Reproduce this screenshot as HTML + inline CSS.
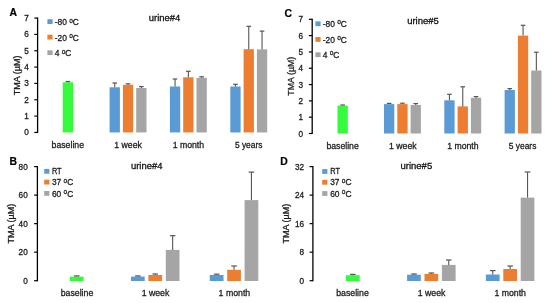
<!DOCTYPE html>
<html><head><meta charset="utf-8"><title>TMA stability in urine</title>
<style>
html,body{margin:0;padding:0;background:#fff;}
svg{display:block;font-family:"Liberation Sans", sans-serif;}
</style></head>
<body>
<svg width="550" height="303" viewBox="0 0 550 303">
<rect x="0" y="0" width="550" height="303" fill="#ffffff"/>
<rect x="62.70" y="82.30" width="10.30" height="50.15" fill="#36FA3C"/>
<line x1="67.85" y1="81.50" x2="67.85" y2="82.30" stroke="#555555" stroke-width="1.1"/>
<line x1="65.55" y1="81.50" x2="70.15" y2="81.50" stroke="#555555" stroke-width="1.2"/>
<rect x="109.60" y="87.30" width="10.30" height="45.15" fill="#5B9BD5"/>
<line x1="114.75" y1="83.00" x2="114.75" y2="87.30" stroke="#555555" stroke-width="1.1"/>
<line x1="112.45" y1="83.00" x2="117.05" y2="83.00" stroke="#555555" stroke-width="1.2"/>
<rect x="122.90" y="84.80" width="10.30" height="47.65" fill="#ED7D31"/>
<line x1="128.05" y1="83.80" x2="128.05" y2="84.80" stroke="#555555" stroke-width="1.1"/>
<line x1="125.75" y1="83.80" x2="130.35" y2="83.80" stroke="#555555" stroke-width="1.2"/>
<rect x="136.20" y="88.00" width="10.30" height="44.45" fill="#A5A5A5"/>
<line x1="141.35" y1="86.60" x2="141.35" y2="88.00" stroke="#555555" stroke-width="1.1"/>
<line x1="139.05" y1="86.60" x2="143.65" y2="86.60" stroke="#555555" stroke-width="1.2"/>
<rect x="169.90" y="86.50" width="10.30" height="45.95" fill="#5B9BD5"/>
<line x1="175.05" y1="79.00" x2="175.05" y2="86.50" stroke="#555555" stroke-width="1.1"/>
<line x1="172.75" y1="79.00" x2="177.35" y2="79.00" stroke="#555555" stroke-width="1.2"/>
<rect x="183.20" y="77.30" width="10.30" height="55.15" fill="#ED7D31"/>
<line x1="188.35" y1="71.30" x2="188.35" y2="77.30" stroke="#555555" stroke-width="1.1"/>
<line x1="186.05" y1="71.30" x2="190.65" y2="71.30" stroke="#555555" stroke-width="1.2"/>
<rect x="196.50" y="77.80" width="10.30" height="54.65" fill="#A5A5A5"/>
<line x1="201.65" y1="76.80" x2="201.65" y2="77.80" stroke="#555555" stroke-width="1.1"/>
<line x1="199.35" y1="76.80" x2="203.95" y2="76.80" stroke="#555555" stroke-width="1.2"/>
<rect x="230.30" y="86.50" width="10.30" height="45.95" fill="#5B9BD5"/>
<line x1="235.45" y1="84.30" x2="235.45" y2="86.50" stroke="#555555" stroke-width="1.1"/>
<line x1="233.15" y1="84.30" x2="237.75" y2="84.30" stroke="#555555" stroke-width="1.2"/>
<rect x="243.60" y="49.20" width="10.30" height="83.25" fill="#ED7D31"/>
<line x1="248.75" y1="26.30" x2="248.75" y2="49.20" stroke="#555555" stroke-width="1.1"/>
<line x1="246.45" y1="26.30" x2="251.05" y2="26.30" stroke="#555555" stroke-width="1.2"/>
<rect x="256.90" y="49.40" width="10.30" height="83.05" fill="#A5A5A5"/>
<line x1="262.05" y1="31.10" x2="262.05" y2="49.40" stroke="#555555" stroke-width="1.1"/>
<line x1="259.75" y1="31.10" x2="264.35" y2="31.10" stroke="#555555" stroke-width="1.2"/>
<line x1="37.60" y1="17.47" x2="37.60" y2="133.05" stroke="#000" stroke-width="1.3"/>
<line x1="34.30" y1="132.45" x2="37.60" y2="132.45" stroke="#000" stroke-width="1.2"/>
<text x="28.70" y="135.45" font-size="8.2" text-anchor="end" font-weight="normal" fill="#1a1a1a" stroke="#1a1a1a" stroke-width="0.28">0</text>
<line x1="34.30" y1="116.11" x2="37.60" y2="116.11" stroke="#000" stroke-width="1.2"/>
<text x="28.70" y="119.11" font-size="8.2" text-anchor="end" font-weight="normal" fill="#1a1a1a" stroke="#1a1a1a" stroke-width="0.28">1</text>
<line x1="34.30" y1="99.77" x2="37.60" y2="99.77" stroke="#000" stroke-width="1.2"/>
<text x="28.70" y="102.77" font-size="8.2" text-anchor="end" font-weight="normal" fill="#1a1a1a" stroke="#1a1a1a" stroke-width="0.28">2</text>
<line x1="34.30" y1="83.43" x2="37.60" y2="83.43" stroke="#000" stroke-width="1.2"/>
<text x="28.70" y="86.43" font-size="8.2" text-anchor="end" font-weight="normal" fill="#1a1a1a" stroke="#1a1a1a" stroke-width="0.28">3</text>
<line x1="34.30" y1="67.09" x2="37.60" y2="67.09" stroke="#000" stroke-width="1.2"/>
<text x="28.70" y="70.09" font-size="8.2" text-anchor="end" font-weight="normal" fill="#1a1a1a" stroke="#1a1a1a" stroke-width="0.28">4</text>
<line x1="34.30" y1="50.75" x2="37.60" y2="50.75" stroke="#000" stroke-width="1.2"/>
<text x="28.70" y="53.75" font-size="8.2" text-anchor="end" font-weight="normal" fill="#1a1a1a" stroke="#1a1a1a" stroke-width="0.28">5</text>
<line x1="34.30" y1="34.41" x2="37.60" y2="34.41" stroke="#000" stroke-width="1.2"/>
<text x="28.70" y="37.41" font-size="8.2" text-anchor="end" font-weight="normal" fill="#1a1a1a" stroke="#1a1a1a" stroke-width="0.28">6</text>
<line x1="34.30" y1="18.07" x2="37.60" y2="18.07" stroke="#000" stroke-width="1.2"/>
<text x="28.70" y="21.07" font-size="8.2" text-anchor="end" font-weight="normal" fill="#1a1a1a" stroke="#1a1a1a" stroke-width="0.28">7</text>
<text x="9.60" y="16.30" font-size="10.4" text-anchor="start" font-weight="bold" fill="#000" stroke="#000" stroke-width="0.2">A</text>
<text x="148.80" y="21.20" font-size="8.8" text-anchor="start" font-weight="normal" fill="#111" stroke="#111" stroke-width="0.28" textLength="31.4" lengthAdjust="spacingAndGlyphs">urine#4</text>
<text transform="translate(20.40,75.40) rotate(-90)" font-size="8.6" text-anchor="middle" fill="#1a1a1a" stroke="#1a1a1a" stroke-width="0.28" textLength="39.6" lengthAdjust="spacingAndGlyphs">TMA (µM)</text>
<rect x="47.40" y="19.20" width="5.20" height="4.80" fill="#5B9BD5"/>
<text x="54.70" y="25.30" font-size="8.4" text-anchor="start" font-weight="normal" fill="#1a1a1a" stroke="#1a1a1a" stroke-width="0.28">-80 <tspan font-size="6.6" dy="-2.7">o</tspan><tspan dy="2.7">C</tspan></text>
<rect x="47.40" y="34.70" width="5.20" height="4.80" fill="#ED7D31"/>
<text x="54.70" y="40.80" font-size="8.4" text-anchor="start" font-weight="normal" fill="#1a1a1a" stroke="#1a1a1a" stroke-width="0.28">-20 <tspan font-size="6.6" dy="-2.7">o</tspan><tspan dy="2.7">C</tspan></text>
<rect x="47.40" y="50.30" width="5.20" height="4.80" fill="#A5A5A5"/>
<text x="54.70" y="56.40" font-size="8.4" text-anchor="start" font-weight="normal" fill="#1a1a1a" stroke="#1a1a1a" stroke-width="0.28">4 <tspan font-size="6.6" dy="-2.7">o</tspan><tspan dy="2.7">C</tspan></text>
<text x="67.80" y="147.90" font-size="8.7" text-anchor="middle" font-weight="normal" fill="#1a1a1a" stroke="#1a1a1a" stroke-width="0.28">baseline</text>
<text x="128.10" y="147.90" font-size="8.7" text-anchor="middle" font-weight="normal" fill="#1a1a1a" stroke="#1a1a1a" stroke-width="0.28">1 week</text>
<text x="188.40" y="147.90" font-size="8.7" text-anchor="middle" font-weight="normal" fill="#1a1a1a" stroke="#1a1a1a" stroke-width="0.28">1 month</text>
<text x="248.70" y="147.90" font-size="8.7" text-anchor="middle" font-weight="normal" fill="#1a1a1a" stroke="#1a1a1a" stroke-width="0.28" textLength="27.5" lengthAdjust="spacingAndGlyphs">5 years</text>
<rect x="337.50" y="105.60" width="10.30" height="27.90" fill="#36FA3C"/>
<line x1="342.65" y1="105.00" x2="342.65" y2="105.60" stroke="#555555" stroke-width="1.1"/>
<line x1="340.35" y1="105.00" x2="344.95" y2="105.00" stroke="#555555" stroke-width="1.2"/>
<rect x="384.00" y="104.10" width="10.30" height="29.40" fill="#5B9BD5"/>
<line x1="389.15" y1="103.40" x2="389.15" y2="104.10" stroke="#555555" stroke-width="1.1"/>
<line x1="386.85" y1="103.40" x2="391.45" y2="103.40" stroke="#555555" stroke-width="1.2"/>
<rect x="397.30" y="104.10" width="10.30" height="29.40" fill="#ED7D31"/>
<line x1="402.45" y1="103.20" x2="402.45" y2="104.10" stroke="#555555" stroke-width="1.1"/>
<line x1="400.15" y1="103.20" x2="404.75" y2="103.20" stroke="#555555" stroke-width="1.2"/>
<rect x="410.60" y="105.00" width="10.30" height="28.50" fill="#A5A5A5"/>
<line x1="415.75" y1="103.60" x2="415.75" y2="105.00" stroke="#555555" stroke-width="1.1"/>
<line x1="413.45" y1="103.60" x2="418.05" y2="103.60" stroke="#555555" stroke-width="1.2"/>
<rect x="444.30" y="100.30" width="10.30" height="33.20" fill="#5B9BD5"/>
<line x1="449.45" y1="94.30" x2="449.45" y2="100.30" stroke="#555555" stroke-width="1.1"/>
<line x1="447.15" y1="94.30" x2="451.75" y2="94.30" stroke="#555555" stroke-width="1.2"/>
<rect x="457.60" y="106.40" width="10.30" height="27.10" fill="#ED7D31"/>
<line x1="462.75" y1="86.80" x2="462.75" y2="106.40" stroke="#555555" stroke-width="1.1"/>
<line x1="460.45" y1="86.80" x2="465.05" y2="86.80" stroke="#555555" stroke-width="1.2"/>
<rect x="470.90" y="97.80" width="10.30" height="35.70" fill="#A5A5A5"/>
<line x1="476.05" y1="96.60" x2="476.05" y2="97.80" stroke="#555555" stroke-width="1.1"/>
<line x1="473.75" y1="96.60" x2="478.35" y2="96.60" stroke="#555555" stroke-width="1.2"/>
<rect x="504.60" y="90.00" width="10.30" height="43.50" fill="#5B9BD5"/>
<line x1="509.75" y1="88.60" x2="509.75" y2="90.00" stroke="#555555" stroke-width="1.1"/>
<line x1="507.45" y1="88.60" x2="512.05" y2="88.60" stroke="#555555" stroke-width="1.2"/>
<rect x="517.90" y="35.60" width="10.30" height="97.90" fill="#ED7D31"/>
<line x1="523.05" y1="25.30" x2="523.05" y2="35.60" stroke="#555555" stroke-width="1.1"/>
<line x1="520.75" y1="25.30" x2="525.35" y2="25.30" stroke="#555555" stroke-width="1.2"/>
<rect x="531.20" y="70.50" width="10.30" height="63.00" fill="#A5A5A5"/>
<line x1="536.35" y1="52.20" x2="536.35" y2="70.50" stroke="#555555" stroke-width="1.1"/>
<line x1="534.05" y1="52.20" x2="538.65" y2="52.20" stroke="#555555" stroke-width="1.2"/>
<line x1="312.20" y1="18.70" x2="312.20" y2="134.10" stroke="#000" stroke-width="1.3"/>
<line x1="308.90" y1="133.50" x2="312.20" y2="133.50" stroke="#000" stroke-width="1.2"/>
<text x="303.10" y="136.50" font-size="8.2" text-anchor="end" font-weight="normal" fill="#1a1a1a" stroke="#1a1a1a" stroke-width="0.28">0</text>
<line x1="308.90" y1="117.19" x2="312.20" y2="117.19" stroke="#000" stroke-width="1.2"/>
<text x="303.10" y="120.19" font-size="8.2" text-anchor="end" font-weight="normal" fill="#1a1a1a" stroke="#1a1a1a" stroke-width="0.28">1</text>
<line x1="308.90" y1="100.87" x2="312.20" y2="100.87" stroke="#000" stroke-width="1.2"/>
<text x="303.10" y="103.87" font-size="8.2" text-anchor="end" font-weight="normal" fill="#1a1a1a" stroke="#1a1a1a" stroke-width="0.28">2</text>
<line x1="308.90" y1="84.56" x2="312.20" y2="84.56" stroke="#000" stroke-width="1.2"/>
<text x="303.10" y="87.56" font-size="8.2" text-anchor="end" font-weight="normal" fill="#1a1a1a" stroke="#1a1a1a" stroke-width="0.28">3</text>
<line x1="308.90" y1="68.24" x2="312.20" y2="68.24" stroke="#000" stroke-width="1.2"/>
<text x="303.10" y="71.24" font-size="8.2" text-anchor="end" font-weight="normal" fill="#1a1a1a" stroke="#1a1a1a" stroke-width="0.28">4</text>
<line x1="308.90" y1="51.93" x2="312.20" y2="51.93" stroke="#000" stroke-width="1.2"/>
<text x="303.10" y="54.93" font-size="8.2" text-anchor="end" font-weight="normal" fill="#1a1a1a" stroke="#1a1a1a" stroke-width="0.28">5</text>
<line x1="308.90" y1="35.61" x2="312.20" y2="35.61" stroke="#000" stroke-width="1.2"/>
<text x="303.10" y="38.61" font-size="8.2" text-anchor="end" font-weight="normal" fill="#1a1a1a" stroke="#1a1a1a" stroke-width="0.28">6</text>
<line x1="308.90" y1="19.30" x2="312.20" y2="19.30" stroke="#000" stroke-width="1.2"/>
<text x="303.10" y="22.30" font-size="8.2" text-anchor="end" font-weight="normal" fill="#1a1a1a" stroke="#1a1a1a" stroke-width="0.28">7</text>
<text x="284.50" y="17.30" font-size="10.4" text-anchor="start" font-weight="bold" fill="#000" stroke="#000" stroke-width="0.2">C</text>
<text x="407.20" y="24.00" font-size="8.8" text-anchor="start" font-weight="normal" fill="#111" stroke="#111" stroke-width="0.28" textLength="31.6" lengthAdjust="spacingAndGlyphs">urine#5</text>
<text transform="translate(294.20,76.20) rotate(-90)" font-size="8.6" text-anchor="middle" fill="#1a1a1a" stroke="#1a1a1a" stroke-width="0.28" textLength="38.9" lengthAdjust="spacingAndGlyphs">TMA (µM)</text>
<rect x="315.40" y="21.40" width="5.20" height="4.80" fill="#5B9BD5"/>
<text x="322.70" y="27.00" font-size="8.4" text-anchor="start" font-weight="normal" fill="#1a1a1a" stroke="#1a1a1a" stroke-width="0.28">-80 <tspan font-size="6.6" dy="-2.7">o</tspan><tspan dy="2.7">C</tspan></text>
<rect x="315.40" y="37.00" width="5.20" height="4.80" fill="#ED7D31"/>
<text x="322.70" y="42.60" font-size="8.4" text-anchor="start" font-weight="normal" fill="#1a1a1a" stroke="#1a1a1a" stroke-width="0.28">-20 <tspan font-size="6.6" dy="-2.7">o</tspan><tspan dy="2.7">C</tspan></text>
<rect x="315.40" y="52.30" width="5.20" height="4.80" fill="#A5A5A5"/>
<text x="322.70" y="57.90" font-size="8.4" text-anchor="start" font-weight="normal" fill="#1a1a1a" stroke="#1a1a1a" stroke-width="0.28">4 <tspan font-size="6.6" dy="-2.7">o</tspan><tspan dy="2.7">C</tspan></text>
<text x="342.60" y="149.00" font-size="8.7" text-anchor="middle" font-weight="normal" fill="#1a1a1a" stroke="#1a1a1a" stroke-width="0.28">baseline</text>
<text x="402.80" y="149.00" font-size="8.7" text-anchor="middle" font-weight="normal" fill="#1a1a1a" stroke="#1a1a1a" stroke-width="0.28">1 week</text>
<text x="462.90" y="149.00" font-size="8.7" text-anchor="middle" font-weight="normal" fill="#1a1a1a" stroke="#1a1a1a" stroke-width="0.28">1 month</text>
<text x="522.60" y="149.00" font-size="8.7" text-anchor="middle" font-weight="normal" fill="#1a1a1a" stroke="#1a1a1a" stroke-width="0.28" textLength="27.5" lengthAdjust="spacingAndGlyphs">5 years</text>
<rect x="69.80" y="276.60" width="13.80" height="4.40" fill="#36FA3C"/>
<line x1="76.70" y1="275.90" x2="76.70" y2="276.60" stroke="#555555" stroke-width="1.1"/>
<line x1="73.90" y1="275.90" x2="79.50" y2="275.90" stroke="#555555" stroke-width="1.2"/>
<rect x="131.00" y="276.60" width="13.70" height="4.40" fill="#5B9BD5"/>
<line x1="137.85" y1="275.90" x2="137.85" y2="276.60" stroke="#555555" stroke-width="1.1"/>
<line x1="135.05" y1="275.90" x2="140.65" y2="275.90" stroke="#555555" stroke-width="1.2"/>
<rect x="148.40" y="275.00" width="13.70" height="6.00" fill="#ED7D31"/>
<line x1="155.25" y1="274.00" x2="155.25" y2="275.00" stroke="#555555" stroke-width="1.1"/>
<line x1="152.45" y1="274.00" x2="158.05" y2="274.00" stroke="#555555" stroke-width="1.2"/>
<rect x="165.80" y="249.90" width="13.70" height="31.10" fill="#A5A5A5"/>
<line x1="172.65" y1="235.70" x2="172.65" y2="249.90" stroke="#555555" stroke-width="1.1"/>
<line x1="169.85" y1="235.70" x2="175.45" y2="235.70" stroke="#555555" stroke-width="1.2"/>
<rect x="209.80" y="275.00" width="13.70" height="6.00" fill="#5B9BD5"/>
<line x1="216.65" y1="274.20" x2="216.65" y2="275.00" stroke="#555555" stroke-width="1.1"/>
<line x1="213.85" y1="274.20" x2="219.45" y2="274.20" stroke="#555555" stroke-width="1.2"/>
<rect x="227.20" y="269.80" width="13.70" height="11.20" fill="#ED7D31"/>
<line x1="234.05" y1="266.00" x2="234.05" y2="269.80" stroke="#555555" stroke-width="1.1"/>
<line x1="231.25" y1="266.00" x2="236.85" y2="266.00" stroke="#555555" stroke-width="1.2"/>
<rect x="244.60" y="200.10" width="13.70" height="80.90" fill="#A5A5A5"/>
<line x1="251.45" y1="172.10" x2="251.45" y2="200.10" stroke="#555555" stroke-width="1.1"/>
<line x1="248.65" y1="172.10" x2="254.25" y2="172.10" stroke="#555555" stroke-width="1.2"/>
<line x1="37.40" y1="166.00" x2="37.40" y2="281.30" stroke="#000" stroke-width="1.3"/>
<line x1="34.10" y1="280.70" x2="37.40" y2="280.70" stroke="#000" stroke-width="1.2"/>
<text x="27.70" y="283.70" font-size="8.2" text-anchor="end" font-weight="normal" fill="#1a1a1a" stroke="#1a1a1a" stroke-width="0.28">0</text>
<line x1="34.10" y1="252.17" x2="37.40" y2="252.17" stroke="#000" stroke-width="1.2"/>
<text x="27.70" y="255.17" font-size="8.2" text-anchor="end" font-weight="normal" fill="#1a1a1a" stroke="#1a1a1a" stroke-width="0.28">20</text>
<line x1="34.10" y1="223.65" x2="37.40" y2="223.65" stroke="#000" stroke-width="1.2"/>
<text x="27.70" y="226.65" font-size="8.2" text-anchor="end" font-weight="normal" fill="#1a1a1a" stroke="#1a1a1a" stroke-width="0.28">40</text>
<line x1="34.10" y1="195.12" x2="37.40" y2="195.12" stroke="#000" stroke-width="1.2"/>
<text x="27.70" y="198.12" font-size="8.2" text-anchor="end" font-weight="normal" fill="#1a1a1a" stroke="#1a1a1a" stroke-width="0.28">60</text>
<line x1="34.10" y1="166.60" x2="37.40" y2="166.60" stroke="#000" stroke-width="1.2"/>
<text x="27.70" y="169.60" font-size="8.2" text-anchor="end" font-weight="normal" fill="#1a1a1a" stroke="#1a1a1a" stroke-width="0.28">80</text>
<text x="9.60" y="164.90" font-size="10.4" text-anchor="start" font-weight="bold" fill="#000" stroke="#000" stroke-width="0.2">B</text>
<text x="131.00" y="169.20" font-size="8.8" text-anchor="start" font-weight="normal" fill="#111" stroke="#111" stroke-width="0.28" textLength="31.4" lengthAdjust="spacingAndGlyphs">urine#4</text>
<text transform="translate(14.20,223.60) rotate(-90)" font-size="8.6" text-anchor="middle" fill="#1a1a1a" stroke="#1a1a1a" stroke-width="0.28" textLength="39.6" lengthAdjust="spacingAndGlyphs">TMA (µM)</text>
<rect x="44.20" y="168.90" width="5.20" height="4.80" fill="#5B9BD5"/>
<text x="51.90" y="173.50" font-size="8.4" text-anchor="start" font-weight="normal" fill="#1a1a1a" stroke="#1a1a1a" stroke-width="0.28"><tspan textLength="9.7" lengthAdjust="spacingAndGlyphs">RT</tspan></text>
<rect x="44.20" y="179.70" width="5.20" height="4.80" fill="#ED7D31"/>
<text x="51.90" y="185.30" font-size="8.4" text-anchor="start" font-weight="normal" fill="#1a1a1a" stroke="#1a1a1a" stroke-width="0.28">37 <tspan font-size="6.6" dy="-2.7">o</tspan><tspan dy="2.7">C</tspan></text>
<rect x="44.20" y="191.00" width="5.20" height="4.80" fill="#A5A5A5"/>
<text x="51.90" y="196.90" font-size="8.4" text-anchor="start" font-weight="normal" fill="#1a1a1a" stroke="#1a1a1a" stroke-width="0.28">60 <tspan font-size="6.6" dy="-2.7">o</tspan><tspan dy="2.7">C</tspan></text>
<text x="77.00" y="296.20" font-size="8.75" text-anchor="middle" font-weight="normal" fill="#1a1a1a" stroke="#1a1a1a" stroke-width="0.28">baseline</text>
<text x="155.50" y="296.20" font-size="8.75" text-anchor="middle" font-weight="normal" fill="#1a1a1a" stroke="#1a1a1a" stroke-width="0.28">1 week</text>
<text x="234.40" y="296.20" font-size="8.75" text-anchor="middle" font-weight="normal" fill="#1a1a1a" stroke="#1a1a1a" stroke-width="0.28">1 month</text>
<rect x="345.90" y="275.20" width="13.80" height="5.80" fill="#36FA3C"/>
<line x1="352.80" y1="274.40" x2="352.80" y2="275.20" stroke="#555555" stroke-width="1.1"/>
<line x1="350.00" y1="274.40" x2="355.60" y2="274.40" stroke="#555555" stroke-width="1.2"/>
<rect x="407.10" y="274.70" width="13.70" height="6.30" fill="#5B9BD5"/>
<line x1="413.95" y1="274.00" x2="413.95" y2="274.70" stroke="#555555" stroke-width="1.1"/>
<line x1="411.15" y1="274.00" x2="416.75" y2="274.00" stroke="#555555" stroke-width="1.2"/>
<rect x="424.50" y="273.90" width="13.70" height="7.10" fill="#ED7D31"/>
<line x1="431.35" y1="273.00" x2="431.35" y2="273.90" stroke="#555555" stroke-width="1.1"/>
<line x1="428.55" y1="273.00" x2="434.15" y2="273.00" stroke="#555555" stroke-width="1.2"/>
<rect x="441.90" y="264.90" width="13.70" height="16.10" fill="#A5A5A5"/>
<line x1="448.75" y1="260.00" x2="448.75" y2="264.90" stroke="#555555" stroke-width="1.1"/>
<line x1="445.95" y1="260.00" x2="451.55" y2="260.00" stroke="#555555" stroke-width="1.2"/>
<rect x="485.90" y="274.50" width="13.70" height="6.50" fill="#5B9BD5"/>
<line x1="492.75" y1="270.60" x2="492.75" y2="274.50" stroke="#555555" stroke-width="1.1"/>
<line x1="489.95" y1="270.60" x2="495.55" y2="270.60" stroke="#555555" stroke-width="1.2"/>
<rect x="503.30" y="269.00" width="13.70" height="12.00" fill="#ED7D31"/>
<line x1="510.15" y1="266.00" x2="510.15" y2="269.00" stroke="#555555" stroke-width="1.1"/>
<line x1="507.35" y1="266.00" x2="512.95" y2="266.00" stroke="#555555" stroke-width="1.2"/>
<rect x="520.70" y="197.60" width="13.70" height="83.40" fill="#A5A5A5"/>
<line x1="527.55" y1="172.00" x2="527.55" y2="197.60" stroke="#555555" stroke-width="1.1"/>
<line x1="524.75" y1="172.00" x2="530.35" y2="172.00" stroke="#555555" stroke-width="1.2"/>
<line x1="312.90" y1="166.00" x2="312.90" y2="281.30" stroke="#000" stroke-width="1.3"/>
<line x1="309.60" y1="280.70" x2="312.90" y2="280.70" stroke="#000" stroke-width="1.2"/>
<text x="304.10" y="283.70" font-size="8.2" text-anchor="end" font-weight="normal" fill="#1a1a1a" stroke="#1a1a1a" stroke-width="0.28">0</text>
<line x1="309.60" y1="252.17" x2="312.90" y2="252.17" stroke="#000" stroke-width="1.2"/>
<text x="304.10" y="255.17" font-size="8.2" text-anchor="end" font-weight="normal" fill="#1a1a1a" stroke="#1a1a1a" stroke-width="0.28">8</text>
<line x1="309.60" y1="223.65" x2="312.90" y2="223.65" stroke="#000" stroke-width="1.2"/>
<text x="304.10" y="226.65" font-size="8.2" text-anchor="end" font-weight="normal" fill="#1a1a1a" stroke="#1a1a1a" stroke-width="0.28">16</text>
<line x1="309.60" y1="195.12" x2="312.90" y2="195.12" stroke="#000" stroke-width="1.2"/>
<text x="304.10" y="198.12" font-size="8.2" text-anchor="end" font-weight="normal" fill="#1a1a1a" stroke="#1a1a1a" stroke-width="0.28">24</text>
<line x1="309.60" y1="166.60" x2="312.90" y2="166.60" stroke="#000" stroke-width="1.2"/>
<text x="304.10" y="169.60" font-size="8.2" text-anchor="end" font-weight="normal" fill="#1a1a1a" stroke="#1a1a1a" stroke-width="0.28">32</text>
<text x="280.20" y="164.50" font-size="10.4" text-anchor="start" font-weight="bold" fill="#000" stroke="#000" stroke-width="0.2">D</text>
<text x="400.50" y="169.20" font-size="8.8" text-anchor="start" font-weight="normal" fill="#111" stroke="#111" stroke-width="0.28" textLength="31.7" lengthAdjust="spacingAndGlyphs">urine#5</text>
<text transform="translate(289.20,223.60) rotate(-90)" font-size="8.6" text-anchor="middle" fill="#1a1a1a" stroke="#1a1a1a" stroke-width="0.28" textLength="39.6" lengthAdjust="spacingAndGlyphs">TMA (µM)</text>
<rect x="322.20" y="169.10" width="5.20" height="4.80" fill="#5B9BD5"/>
<text x="330.20" y="173.80" font-size="8.4" text-anchor="start" font-weight="normal" fill="#1a1a1a" stroke="#1a1a1a" stroke-width="0.28"><tspan textLength="9.7" lengthAdjust="spacingAndGlyphs">RT</tspan></text>
<rect x="322.20" y="179.90" width="5.20" height="4.80" fill="#ED7D31"/>
<text x="330.20" y="185.30" font-size="8.4" text-anchor="start" font-weight="normal" fill="#1a1a1a" stroke="#1a1a1a" stroke-width="0.28">37 <tspan font-size="6.6" dy="-2.7">o</tspan><tspan dy="2.7">C</tspan></text>
<rect x="322.20" y="191.10" width="5.20" height="4.80" fill="#A5A5A5"/>
<text x="330.20" y="197.10" font-size="8.4" text-anchor="start" font-weight="normal" fill="#1a1a1a" stroke="#1a1a1a" stroke-width="0.28">60 <tspan font-size="6.6" dy="-2.7">o</tspan><tspan dy="2.7">C</tspan></text>
<text x="352.50" y="296.20" font-size="8.75" text-anchor="middle" font-weight="normal" fill="#1a1a1a" stroke="#1a1a1a" stroke-width="0.28">baseline</text>
<text x="431.60" y="296.20" font-size="8.75" text-anchor="middle" font-weight="normal" fill="#1a1a1a" stroke="#1a1a1a" stroke-width="0.28">1 week</text>
<text x="510.20" y="296.20" font-size="8.75" text-anchor="middle" font-weight="normal" fill="#1a1a1a" stroke="#1a1a1a" stroke-width="0.28">1 month</text>
</svg>
</body></html>
